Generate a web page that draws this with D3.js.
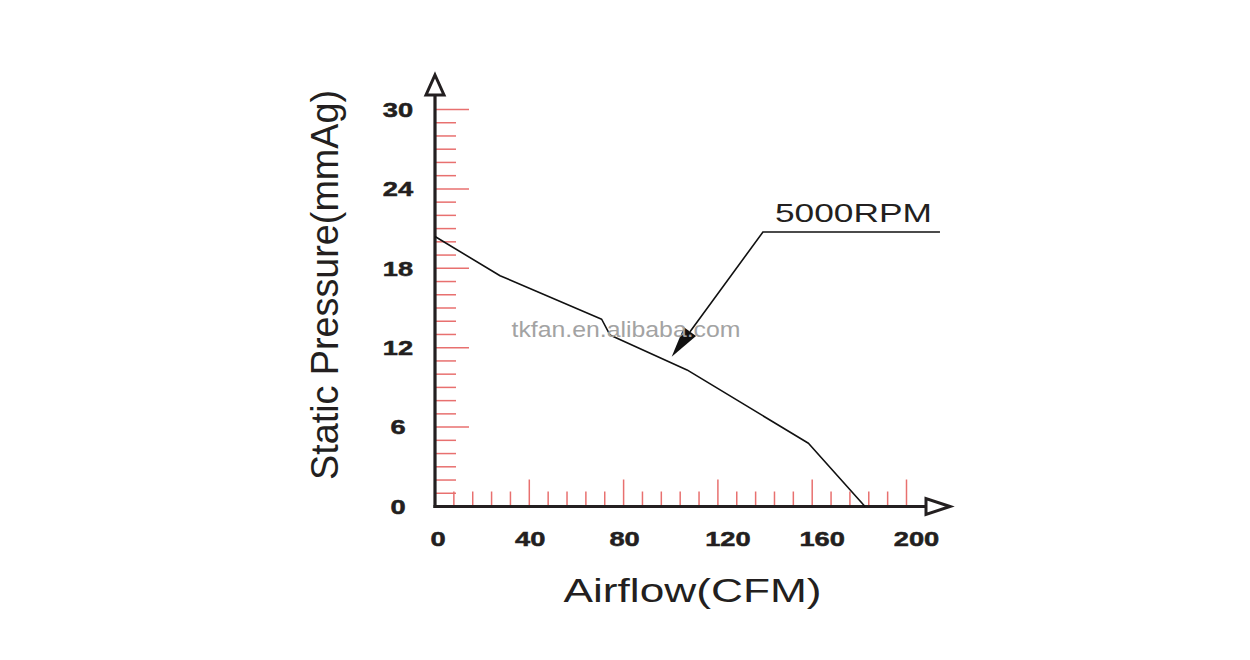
<!DOCTYPE html>
<html>
<head>
<meta charset="utf-8">
<script src="https://cdn.jsdelivr.net/npm/d3@7"></script>
<style>
  html, body { margin: 0; padding: 0; background: #fff; }
  svg { display: block; }
  text { font-family: Arial, "Liberation Sans", sans-serif; }
</style>
</head>
<body>
<svg id="chart" width="1250" height="660"></svg>
<script>
// ---- data ----
const airflow  = [0, 27.6, 70.7, 74.2, 106.9, 158.4, 182.4];
const pressure = [20.4, 17.44, 14.15, 12.96, 10.32, 4.78, 0];
const xTickLabels = [0, 40, 80, 120, 160, 200];
const yTickLabels = [0, 6, 12, 18, 24, 30];
const seriesLabel = "5000RPM";
const xTitle = "Airflow(CFM)";
const yTitle = "Static Pressure(mmAg)";
const watermark = "tkfan.en.alibaba.com";
// annotation anchor points in data units: tip, elbow, end of leader line
const calloutX = [100.4, 139.1, 214.2];
const calloutY = [11.32, 20.74, 20.74];
const labelAt = [177.5, 21.48];

const svg = d3.select("#chart");
const x = d3.scaleLinear().domain([0, 200]).range([435, 906.5]);
const y = d3.scaleLinear().domain([0, 30]).range([506.5, 109.5]);
const tickColor = "#e8706f";
const ink = "#231f20";
const stretch = 1.33;

// ---- red ticks ----
const yMinor = d3.range(1, 31, 1);
svg.append("g").selectAll("line").data(yMinor).join("line")
  .attr("x1", x(0)).attr("x2", d => x(0) + (d % 6 === 0 ? 34 : 21))
  .attr("y1", d => y(d)).attr("y2", d => y(d))
  .attr("stroke", tickColor).attr("stroke-width", 1.5);

const xMinor = d3.range(8, 201, 8);
svg.append("g").selectAll("line").data(xMinor).join("line")
  .attr("x1", d => x(d)).attr("x2", d => x(d))
  .attr("y1", y(0)).attr("y2", d => y(0) - (d % 40 === 0 ? 27 : 15))
  .attr("stroke", tickColor).attr("stroke-width", 1.5);

// ---- axes ----
const axisG = svg.append("g");
axisG.append("line").attr("x1", x(0)).attr("x2", x(0))
  .attr("y1", y(0) + 1.5).attr("y2", 95)
  .attr("stroke", ink).attr("stroke-width", 3.2);
axisG.append("line").attr("x1", x(0) - 1.5).attr("x2", 925)
  .attr("y1", y(0)).attr("y2", y(0))
  .attr("stroke", ink).attr("stroke-width", 3.2);
// hollow arrowheads
axisG.append("path")
  .attr("d", `M${x(0)},75 L${x(0) + 9},95 L${x(0) - 9},95 Z`)
  .attr("fill", "#fff").attr("stroke", ink).attr("stroke-width", 3).attr("stroke-linejoin", "miter");
axisG.append("path")
  .attr("d", `M950,${y(0)} L926,${y(0) - 8} L926,${y(0) + 8} Z`)
  .attr("fill", "#fff").attr("stroke", ink).attr("stroke-width", 3).attr("stroke-linejoin", "miter");

function stretchText(sel, factor) {
  sel.each(function() {
    const len = this.getComputedTextLength();
    d3.select(this).attr("textLength", len * factor).attr("lengthAdjust", "spacingAndGlyphs");
  });
}

// ---- tick labels ----
svg.append("g").selectAll("text").data(yTickLabels).join("text")
  .attr("x", 398).attr("y", d => y(d)).attr("dy", "0.36em")
  .attr("text-anchor", "middle").attr("font-size", 20.5).attr("font-weight", "bold")
  .attr("fill", ink).attr("stroke", ink).attr("stroke-width", 0.5)
  .text(d => d)
  .call(stretchText, stretch);

// three-digit labels sit slightly right of their ticks in the original
const labelShift = d => String(d).length === 3 ? 10 : (d === 0 ? 3 : 1);
svg.append("g").selectAll("text").data(xTickLabels).join("text")
  .attr("x", d => x(d) + labelShift(d)).attr("y", 546)
  .attr("text-anchor", "middle").attr("font-size", 20.5).attr("font-weight", "bold")
  .attr("fill", ink).attr("stroke", ink).attr("stroke-width", 0.5)
  .text(d => d)
  .call(stretchText, stretch);

// ---- axis titles ----
svg.append("text")
  .attr("x", 692.5).attr("y", 602)
  .attr("text-anchor", "middle").attr("font-size", 32.5)
  .attr("fill", ink).attr("textLength", 258).attr("lengthAdjust", "spacingAndGlyphs")
  .text(xTitle);

svg.append("text")
  .attr("transform", "translate(338,285) rotate(-90) scale(1,1.25)")
  .attr("text-anchor", "middle").attr("font-size", 31.3)
  .attr("fill", ink).attr("textLength", 390).attr("lengthAdjust", "spacingAndGlyphs")
  .text(yTitle);

// ---- curve ----
const pts = airflow.map((a, i) => [a, pressure[i]]);
svg.append("path")
  .datum(pts)
  .attr("d", d3.line().x(d => x(d[0])).y(d => y(d[1])))
  .attr("fill", "none").attr("stroke", "#111").attr("stroke-width", 1.6)
  .attr("stroke-linejoin", "round");

// ---- callout ----
const tip = [x(calloutX[0]), y(calloutY[0])];
const elbow = [x(calloutX[1]), y(calloutY[1])];
const endP = [x(calloutX[2]), y(calloutY[2])];
const dx = elbow[0] - tip[0], dy = elbow[1] - tip[1];
const L = Math.hypot(dx, dy);
const ux = dx / L, uy = dy / L;
const headLen = 31, headHalf = 7.5;
const bx = tip[0] + ux * headLen, by = tip[1] + uy * headLen;
svg.append("path")
  .attr("d", d3.line()([[bx, by], elbow, endP]))
  .attr("fill", "none").attr("stroke", "#111").attr("stroke-width", 1.6);
svg.append("path")
  .attr("d", `M${tip[0]},${tip[1]} L${bx - uy * headHalf},${by + ux * headHalf} L${bx + uy * headHalf},${by - ux * headHalf} Z`)
  .attr("fill", "#111");

svg.append("text")
  .attr("x", x(labelAt[0])).attr("y", y(labelAt[1]))
  .attr("text-anchor", "middle").attr("font-size", 26.5)
  .attr("fill", ink).attr("textLength", 157).attr("lengthAdjust", "spacingAndGlyphs")
  .text(seriesLabel);

// ---- watermark ----
svg.append("text")
  .attr("x", 626).attr("y", 337)
  .attr("text-anchor", "middle").attr("font-size", 21.5)
  .attr("fill", "#a3a3a3")
  .attr("textLength", 229).attr("lengthAdjust", "spacingAndGlyphs")
  .text(watermark);
</script>
</body>
</html>
